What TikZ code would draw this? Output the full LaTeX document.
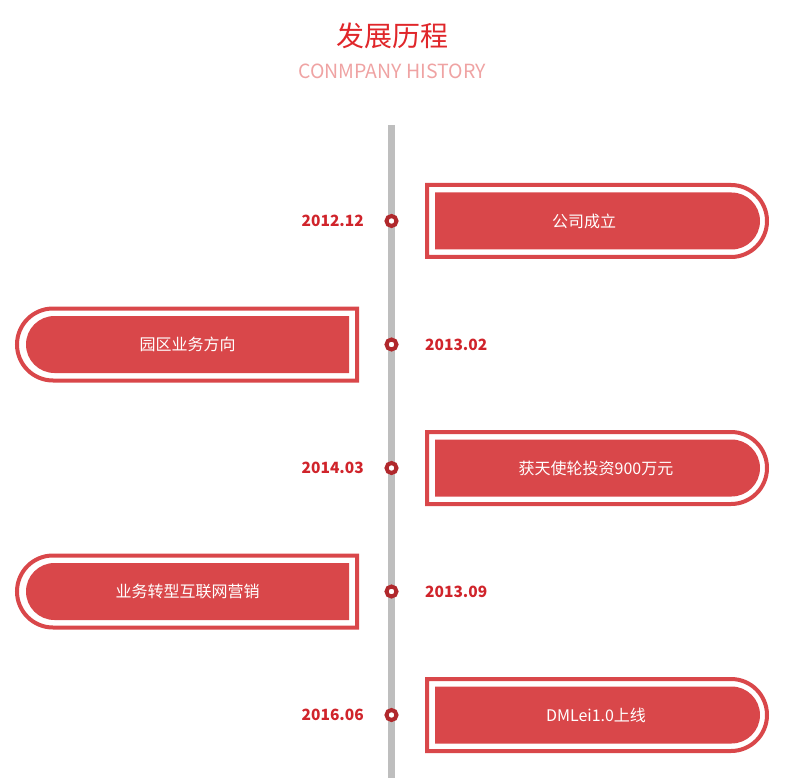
\documentclass[tikz,border=0pt]{standalone}
\usepackage{fontspec}
\setmainfont{Noto Sans CJK SC}
\definecolor{boxred}{HTML}{D9474A}
\definecolor{datered}{HTML}{D0242B}
\definecolor{ringred}{HTML}{B0282C}
\definecolor{linegray}{HTML}{BEBEBE}
\definecolor{titlered}{HTML}{E0262A}
\definecolor{subpink}{HTML}{EFA3A3}
\tikzset{
  outerborder/.style={draw=boxred, line width=4pt},
  innerfill/.style={fill=boxred},
  marker/.style={circle, draw=ringred, line width=4pt, fill=white, minimum size=10pt, inner sep=0pt},
  datetext/.style={text=datered, font=\fontsize{15.5}{18}\selectfont\bfseries, inner sep=0pt},
  boxtext/.style={text=white, font=\fontsize{16}{18}\selectfont, inner sep=0pt},
  tlline/.style={draw=linegray, line width=7pt},
}
\newcommand{\rightitem}[5]{%
  \draw[outerborder] (427,#2-36) -- (731,#2-36) arc(-90:90:36) -- (427,#2+36) -- cycle;
  \fill[innerfill] (435,#2-28.5) -- (731.5,#2-28.5) arc(-90:90:28.5) -- (435,#2+28.5) -- cycle;
  \node[marker] (#1m) at (391.5,#2) {};
  \node[datetext, anchor=east] (#1d) at (364,#2) {#3};
  \node[boxtext] (#1t) at (#5,#2) {#4};
}
\newcommand{\leftitem}[5]{%
  \draw[outerborder] (357,#2-36) -- (53,#2-36) arc(-90:-270:36) -- (357,#2+36) -- cycle;
  \fill[innerfill] (349,#2-28.5) -- (54.5,#2-28.5) arc(-90:-270:28.5) -- (349,#2+28.5) -- cycle;
  \node[marker] (#1m) at (391.5,#2) {};
  \node[datetext, anchor=west] (#1d) at (425,#2) {#3};
  \node[boxtext] (#1t) at (#5,#2) {#4};
}
\begin{document}
\begin{tikzpicture}[x=1pt,y=-1pt]
\useasboundingbox (0,0) rectangle (790,778);
\node[text=titlered, font=\fontsize{28}{30}\selectfont, inner sep=0pt] (title) at (392,36) {发展历程};
\node[text=subpink, font=\fontsize{19.5}{21}\selectfont, inner sep=0pt] (subtitle) at (392,71) {CONMPANY HISTORY};
\coordinate (tltop) at (391.5,125);
\coordinate (tlbot) at (391.5,778);
\draw[tlline] (tltop) -- (tlbot);
\rightitem{r1}{221}{2012.12}{公司成立}{584}
\leftitem{r2}{344.5}{2013.02}{园区业务方向}{187.5}
\rightitem{r3}{468}{2014.03}{获天使轮投资900万元}{596}
\leftitem{r4}{591.5}{2013.09}{业务转型互联网营销}{187.5}
\rightitem{r5}{715}{2016.06}{DMLei1.0上线}{596}
\end{tikzpicture}
\end{document}
